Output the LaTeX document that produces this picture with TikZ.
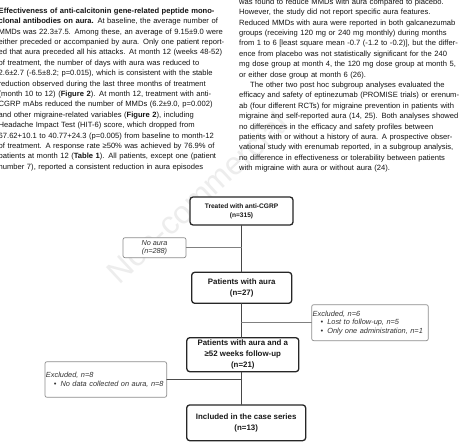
\documentclass[tikz,border=0pt]{standalone}
\usepackage{fontspec}
\setmainfont{Liberation Sans}
\usepackage{tikz}

\newlength{\colwd}
\newcommand{\jline}[1]{\makebox[\colwd][s]{#1}}
\newcommand{\lline}[1]{\makebox[\colwd][l]{#1}}
\newcommand{\bul}{\hspace*{8pt}\textbullet\hspace{4pt}}

\begin{document}
\begin{tikzpicture}[
  x=1pt, y=-1pt, line cap=round,
  bodytext/.style={inner sep=0pt, align=left, text=black!92,
                   font=\fontsize{7.6}{10.4}\selectfont},
  watermark/.style={text=black!7, font=\fontsize{32}{32}\selectfont, rotate=43, inner sep=0pt},
  mainbox/.style={rectangle, rounded corners=3pt, draw=black!85, line width=1.3pt,
                  fill=white, align=center, inner sep=1pt, text=black!90,
                  font=\bfseries\fontsize{7.9}{11.3}\selectfont},
  sidebox/.style={rectangle, rounded corners=2pt, draw=black!45, line width=0.7pt,
                  fill=white, inner xsep=1pt, inner ysep=1pt, text=black!80,
                  font=\itshape\fontsize{7.4}{8.6}\selectfont},
  spine/.style={draw=black!72, line width=1.6pt},
  sidelink/.style={draw=black!50, line width=0.9pt}]
  \fill[white] (0,0) rectangle (474,444);
  \path[use as bounding box, clip] (0,0) rectangle (474,444);

  % watermark
  \node[watermark, anchor=west] (wm) at (112,277) {Non-commercial};

  % text columns
  \node[bodytext, anchor=north west, text width=232pt] (leftcol) at (-1.5,7.5) {%
    \setlength{\colwd}{232pt}%
    \jline{\textbf{Effectiveness of anti-calcitonin gene-related peptide mono-}}\\
    \jline{\textbf{clonal antibodies on aura.} At baseline, the average number of}\\
    \jline{MMDs was 22.3±7.5. Among these, an average of 9.15±9.0 were}\\
    \jline{either preceded or accompanied by aura. Only one patient report-}\\
    \jline{ed that aura preceded all his attacks. At month 12 (weeks 48-52)}\\
    \jline{of treatment, the number of days with aura was reduced to}\\
    \jline{2.6±2.7 (-6.5±8.2; p=0.015), which is consistent with the stable}\\
    \jline{reduction observed during the last three months of treatment}\\
    \jline{(month 10 to 12) (\textbf{Figure 2}). At month 12, treatment with anti-}\\
    \jline{CGRP mAbs reduced the number of MMDs (6.2±9.0, p=0.002)}\\
    \jline{and other migraine-related variables (\textbf{Figure 2}), including}\\
    \jline{Headache Impact Test (HIT-6) score, which dropped from}\\
    \jline{67.62+10.1 to 40.77+24.3 (p=0.005) from baseline to month-12}\\
    \jline{of treatment. A response rate ≥50\% was achieved by 76.9\% of}\\
    \jline{patients at month 12 (\textbf{Table 1}). All patients, except one (patient}\\
    \jline{number 7), reported a consistent reduction in aura episodes}};
  \node[bodytext, anchor=north west, text width=234pt] (rightcol) at (239,-1.5) {%
    \setlength{\colwd}{234pt}%
    \lline{was found to reduce MMDs with aura compared to placebo.}\\
    \jline{However, the study did not report specific aura features.}\\
    \jline{Reduced MMDs with aura were reported in both galcanezumab}\\
    \jline{groups (receiving 120 mg or 240 mg monthly) during months}\\
    \jline{from 1 to 6 [least square mean -0.7 (-1.2 to -0.2)], but the differ-}\\
    \jline{ence from placebo was not statistically significant for the 240}\\
    \jline{mg dose group at month 4, the 120 mg dose group at month 5,}\\
    \lline{or either dose group at month 6 (26).}\\
    \jline{\hspace*{11pt}The other two post hoc subgroup analyses evaluated the}\\
    \jline{efficacy and safety of eptinezumab (PROMISE trials) or erenum-}\\
    \jline{ab (four different RCTs) for migraine prevention in patients with}\\
    \jline{migraine and self-reported aura (14, 25). Both analyses showed}\\
    \jline{no differences in the efficacy and safety profiles between}\\
    \jline{patients with or without a history of aura. A prospective obser-}\\
    \jline{vational study with erenumab reported, in a subgroup analysis,}\\
    \jline{no difference in effectiveness or tolerability between patients}\\
    \lline{with migraine with aura or without aura (24).}};

  % flowchart
  \node[mainbox, minimum width=103pt, minimum height=28pt,
        font=\bfseries\fontsize{6.6}{8.6}\selectfont] (treated) at (241.5,211)
        {Treated with anti-CGRP\\(n=315)};
  \node[mainbox, minimum width=100pt, minimum height=31pt] (aura27) at (241.7,287.8)
        {Patients with aura\\(n=27)};
  \node[mainbox, minimum width=112pt, minimum height=34pt,
        font=\bfseries\fontsize{7.9}{10.8}\selectfont] (fu21) at (242.8,354.7)
        {Patients with aura and a\\≥52 weeks follow-up\\(n=21)};
  \node[mainbox, minimum width=119pt, minimum height=35.7pt] (incl) at (246.2,422.8)
        {Included in the case series\\(n=13)};
  \node[sidebox, align=center, minimum width=63pt, minimum height=20pt,
        font=\itshape\fontsize{7.3}{8.4}\selectfont] (noaura) at (154.5,247.7)
        {No aura\\(n=288)};
  \node[sidebox, align=left, text width=114.6pt, minimum height=36pt] (exc6) at (370,322.7)
        {Excluded, n=6\\\bul Lost to follow-up, n=5\\\bul Only one administration, n=1};
  \node[sidebox, align=left, text width=119.7pt, minimum height=35.6pt] (exc8) at (105.8,379.5)
        {Excluded, n=8\\\bul No data collected on aura, n=8};

  \draw[spine] (treated.south) -- (treated.south |- aura27.north);
  \draw[spine] (aura27.south -| treated.south) -- (treated.south |- fu21.north);
  \draw[spine] (fu21.south -| treated.south) -- (treated.south |- incl.north);
  \draw[sidelink] (noaura.east) -- (noaura.east -| treated.south);
  \draw[sidelink] (exc6.west) -- (exc6.west -| treated.south);
  \draw[sidelink, draw=black!70, line width=1.2pt] (exc8.east) -- (exc8.east -| treated.south);
\end{tikzpicture}
\end{document}
